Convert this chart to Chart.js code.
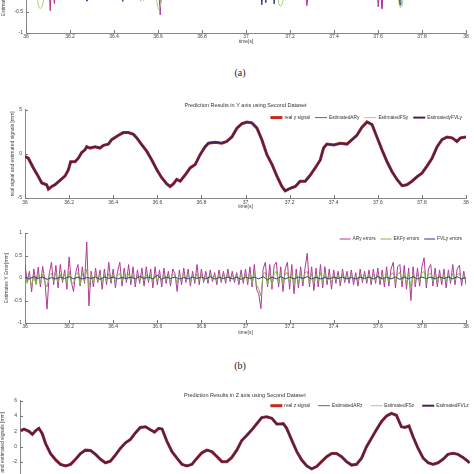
<!DOCTYPE html>
<html><head><meta charset="utf-8">
<script src="https://cdn.jsdelivr.net/npm/chart.js@4"></script>
<style>
html,body{margin:0;padding:0;width:474px;height:474px;overflow:hidden;background:#fff;position:relative;}
.p{position:absolute;left:0;width:474px;}
.cap{position:absolute;font-family:"Liberation Serif","Times New Roman",serif;font-size:10px;color:#222;transform:translate(-50%,-50%);}
</style></head><body>
<div class="p" style="top:-62px;height:107px"><canvas id="ca"></canvas></div>
<div class="cap" style="left:240px;top:72px">(a)</div>
<div class="p" style="top:97px;height:113px"><canvas id="cb1"></canvas></div>
<div class="p" style="top:226px;height:111px"><canvas id="cb2"></canvas></div>
<div class="cap" style="left:240px;top:365px">(b)</div>
<div class="p" style="top:386px;height:134px"><canvas id="cc"></canvas></div>
<script>
// ---------- tick labels ----------
const xTickValues = [36, 36.2, 36.4, 36.6, 36.8, 37, 37.2, 37.4, 37.6, 37.8, 38];
const ySigTicks = [-5, 0, 5];
const errTicks = [-1, -0.5, 0, 0.5, 1];
const zTicks = [-8, -6, -4, -2, 0, 2, 4, 6];

// ---------- panel (a): X errors (only lower part visible) ----------
const aMagT = [36.000,36.106,36.110,36.114,36.125,36.129,36.133,36.600,36.606,36.610,36.614,37.270,37.277,37.283,37.596,37.601,37.606,37.614,37.618,37.623,38.000];
const aMagV = [-0.05,-0.05,-0.47,-0.05,-0.05,-0.30,-0.05,-0.05,-0.20,-0.57,-0.05,-0.05,-0.35,-0.05,-0.05,-0.38,-0.05,-0.05,-0.42,-0.05,-0.05];
const aEkfT = [36.000,36.050,36.055,36.060,36.066,36.072,36.078,36.084,36.518,36.522,36.526,36.531,36.535,36.539,36.590,36.596,36.602,36.608,36.614,36.620,37.143,37.149,37.156,37.163,37.170,37.176,37.690,37.696,37.702,37.709,37.715,37.720,38.000];
const aEkfV = [-0.05,-0.05,-0.30,-0.40,-0.42,-0.38,-0.28,-0.05,-0.05,-0.24,-0.05,-0.05,-0.23,-0.05,-0.05,-0.30,-0.44,-0.40,-0.25,-0.05,-0.05,-0.30,-0.36,-0.33,-0.20,-0.05,-0.05,-0.30,-0.40,-0.36,-0.15,-0.05,-0.05];
const aFvlT = [36.000,36.273,36.277,36.281,36.436,36.440,36.444,37.068,37.072,37.076,37.086,37.090,37.094,37.124,37.128,37.132,37.696,37.700,37.704,38.000];
const aFvlV = [-0.05,-0.05,-0.24,-0.05,-0.05,-0.25,-0.05,-0.05,-0.33,-0.05,-0.05,-0.28,-0.05,-0.05,-0.31,-0.05,-0.05,-0.33,-0.05,-0.05];

// ---------- panel (b) top: Y signal ----------
const ySigT = [36.000,36.015,36.038,36.061,36.076,36.098,36.106,36.121,36.136,36.159,36.182,36.197,36.207,36.227,36.242,36.257,36.272,36.280,36.295,36.318,36.340,36.356,36.378,36.393,36.424,36.446,36.469,36.492,36.507,36.530,36.552,36.575,36.598,36.620,36.643,36.658,36.673,36.688,36.704,36.726,36.749,36.772,36.794,36.817,36.832,36.862,36.893,36.915,36.938,36.961,36.983,37.006,37.029,37.052,37.074,37.097,37.120,37.142,37.165,37.180,37.203,37.226,37.248,37.271,37.294,37.316,37.339,37.354,37.369,37.400,37.430,37.460,37.483,37.505,37.528,37.551,37.574,37.596,37.619,37.642,37.664,37.687,37.710,37.732,37.755,37.778,37.800,37.823,37.846,37.869,37.891,37.914,37.937,37.959,37.975,38.000];
const ySigV = [-0.3,-0.5,-1.6,-2.6,-3.3,-3.5,-4.0,-3.7,-3.5,-3.0,-2.5,-1.8,-0.9,-0.9,-0.5,0.15,0.45,0.8,0.65,0.8,0.65,0.95,1.1,1.6,2.1,2.4,2.4,2.2,1.8,1.0,0.3,-0.7,-1.8,-2.7,-3.4,-3.7,-3.4,-2.9,-3.1,-2.4,-1.6,-1.2,-0.1,0.8,1.2,1.3,1.2,1.4,1.9,2.9,3.4,3.6,3.5,2.9,1.6,-0.1,-1.2,-2.5,-3.7,-4.2,-3.9,-3.7,-3.1,-3.1,-2.4,-1.6,-0.7,0.65,1.1,1.0,1.2,1.1,1.6,2.1,3.0,3.6,3.3,1.9,0.45,-0.9,-2.0,-2.9,-3.6,-3.5,-3.1,-2.6,-2.2,-1.4,-0.5,0.8,1.6,1.9,1.8,1.4,1.8,1.9];

// ---------- panel (b) bottom: Y errors (sampled every 0.01 s / 0.02 s) ----------
const arErr = [0.30,-0.08,0.15,-0.31,0.20,-0.12,0.24,-0.20,0.26,-0.05,
-0.69,0.10,0.35,-0.15,0.28,-0.22,0.30,-0.10,0.18,-0.25,
0.47,-0.08,-0.30,0.12,0.30,-0.18,0.25,-0.12,0.80,-0.62,
0.15,-0.20,0.22,-0.10,0.18,-0.25,0.20,-0.15,0.35,-0.12,
0.20,-0.22,0.15,0.35,-0.18,0.22,-0.10,0.30,-0.15,0.25,
-0.20,0.18,-0.12,0.22,-0.18,0.25,-0.10,0.20,-0.22,0.25,
-0.15,0.18,-0.20,0.22,-0.12,0.15,-0.18,0.20,0.10,-0.30,
0.18,-0.15,0.22,-0.10,0.20,-0.18,0.15,-0.12,0.30,-0.15,
0.20,-0.10,0.15,-0.12,0.18,-0.08,0.12,-0.15,0.18,-0.10,
0.15,-0.12,0.20,-0.08,0.15,-0.10,0.12,-0.15,0.18,-0.12,
0.20,-0.15,0.25,-0.20,0.30,-0.25,-0.35,-0.68,0.20,0.35,
-0.20,0.30,-0.25,0.28,0.35,-0.20,0.25,-0.30,0.20,0.35,
-0.25,0.30,-0.35,0.20,-0.22,0.25,-0.18,0.22,0.55,-0.20,
0.25,-0.28,0.22,-0.20,0.30,-0.22,0.25,-0.15,0.20,-0.25,
0.18,-0.12,0.15,-0.18,0.20,-0.10,0.15,-0.12,0.18,-0.15,
0.12,-0.18,0.20,-0.10,0.15,-0.12,0.18,-0.15,0.20,-0.12,
0.22,-0.15,0.18,-0.20,0.25,-0.18,0.20,0.35,-0.22,0.25,
0.30,-0.20,0.28,-0.25,0.22,-0.50,0.25,-0.20,0.22,-0.18,
0.25,0.45,-0.22,0.20,0.30,-0.18,0.22,-0.20,0.18,-0.15,
0.20,-0.22,0.18,-0.12,0.30,-0.15,0.20,0.28,-0.18,0.15,
-0.15];
const ekfErr = [0.05,-0.12,0.08,-0.18,0.06,-0.15,0.10,-0.12,0.08,-0.10,
-0.20,0.08,0.10,-0.08,0.12,-0.10,0.08,-0.06,0.10,-0.12,
0.15,-0.10,-0.12,0.08,0.12,-0.15,0.10,-0.08,0.20,-0.20,
0.08,-0.10,0.10,-0.06,0.08,-0.10,0.06,-0.08,0.10,-0.06,
0.08,-0.08,0.06,0.10,-0.08,0.08,-0.05,0.10,-0.06,0.08,
-0.08,0.06,-0.05,0.08,-0.06,0.08,-0.05,0.06,-0.08,0.08,
-0.06,0.05,-0.08,0.08,-0.05,0.06,-0.08,0.10,0.05,-0.12,
0.08,-0.06,0.10,-0.05,0.08,-0.06,0.05,-0.05,0.10,-0.06,
0.08,-0.05,0.06,-0.05,0.08,-0.04,0.05,-0.06,0.08,-0.05,
0.06,-0.05,0.08,-0.04,0.06,-0.05,0.05,-0.06,0.08,-0.05,
0.08,-0.08,0.10,-0.12,0.12,-0.15,-0.25,-0.40,0.10,0.12,
-0.15,0.12,-0.18,0.10,0.15,-0.10,0.12,-0.15,0.10,0.12,
-0.12,0.12,-0.15,0.08,-0.10,0.10,-0.08,0.10,0.15,-0.10,
0.10,-0.12,0.08,-0.08,0.12,-0.10,0.10,-0.06,0.08,-0.10,
0.06,-0.05,0.06,-0.08,0.08,-0.05,0.06,-0.05,0.08,-0.06,
0.05,-0.08,0.08,-0.05,0.06,-0.05,0.08,-0.06,0.08,-0.05,
0.08,-0.06,0.08,-0.08,0.10,-0.08,0.08,0.12,-0.10,0.10,
0.12,-0.08,0.10,-0.12,0.10,-0.22,0.10,-0.10,0.08,-0.08,
0.10,0.15,-0.10,0.08,0.10,-0.08,0.08,-0.08,0.06,-0.06,
0.08,-0.08,0.06,-0.05,0.10,-0.06,0.08,0.10,-0.06,0.06,
-0.05];
const fvlErr = [0.02,-0.02,0.03,-0.01,0.02,-0.03,0.01,-0.02,0.02,-0.01,
0.03,-0.02,0.02,-0.02,0.01,-0.01,0.02,-0.03,0.02,-0.01,
0.02,-0.02,0.01,-0.01,0.02,-0.02,0.03,-0.01,0.02,-0.02,
0.06,-0.03,0.02,-0.01,0.02,-0.02,0.01,-0.02,0.02,-0.01,
0.02,-0.02,0.03,-0.02,0.01,-0.01,0.02,-0.02,0.02,-0.03,
0.02,-0.01,0.02,-0.02,0.03,-0.04,0.02,-0.02,0.03,-0.02,
0.02,-0.02,0.02,-0.01,0.03,-0.02,0.02,-0.02,0.01,-0.02,
0.02,-0.01,0.02,-0.02,0.01,-0.02,0.02,-0.01,0.02,-0.02,
0.03,-0.02,0.02,-0.02,0.02,-0.03,0.02,-0.02,0.03,-0.02,
0.02,-0.01,0.02,-0.02,0.02,-0.01,0.02,-0.02,0.03,-0.02,
0.01];

// ---------- panel (c): Z signal ----------
const zSigT = [36.003,36.018,36.040,36.055,36.070,36.084,36.099,36.114,36.136,36.158,36.180,36.203,36.225,36.247,36.269,36.291,36.314,36.336,36.358,36.380,36.402,36.424,36.447,36.469,36.491,36.513,36.535,36.558,36.580,36.598,36.617,36.632,36.654,36.676,36.698,36.720,36.742,36.765,36.787,36.809,36.831,36.853,36.876,36.898,36.920,36.942,36.964,36.986,37.009,37.031,37.053,37.075,37.097,37.120,37.142,37.157,37.171,37.186,37.208,37.231,37.253,37.275,37.297,37.319,37.341,37.364,37.386,37.408,37.430,37.452,37.475,37.497,37.519,37.541,37.563,37.585,37.608,37.630,37.652,37.674,37.696,37.711,37.730,37.748,37.770,37.793,37.815,37.837,37.859,37.881,37.903,37.926,37.948,37.970,38.000];
const zSigV = [2.1,2.3,2.0,1.6,2.1,2.4,1.7,0.4,-0.9,-1.7,-2.3,-2.5,-2.3,-1.65,-0.9,-0.45,-0.5,-1.0,-1.65,-2.1,-1.9,-1.1,-0.2,0.5,0.95,1.8,2.5,2.6,2.2,1.9,2.4,2.3,0.65,-0.65,-1.5,-2.3,-2.5,-2.3,-1.5,-0.8,-0.45,-0.65,-1.3,-1.95,-1.95,-1.4,-0.45,0.8,1.5,2.2,3.0,3.8,3.9,3.7,2.95,2.95,3.0,2.4,0.9,-0.65,-1.75,-2.5,-2.9,-2.6,-1.95,-1.3,-0.9,-0.9,-1.3,-1.95,-2.4,-2.3,-1.5,0.0,1.1,2.2,3.3,4.0,4.35,4.1,2.6,2.5,2.7,1.3,-0.2,-1.5,-2.1,-2.3,-2.1,-1.65,-1.0,-0.85,-1.0,-1.4,-2.1];

// sample times (x categories) of the error series
const errT = Array.from({length: arErr.length}, (_, i) => +(36 + i * 0.01).toFixed(2));
const fvlT = Array.from({length: fvlErr.length}, (_, i) => +(36 + i * 0.02).toFixed(2));

// ---------- colours ----------
const C_REAL = '#c8281e', C_AR = '#a4418f', C_FS = '#a9d07a', C_FVL = '#4a2250';
const E_AR = '#b0399a', E_EKF = '#86b447', E_FVL = '#34378a';
const FONT = '"Liberation Sans", Arial, sans-serif';

Chart.defaults.font.family = FONT;
Chart.defaults.color = '#444';

const pts = (t, v) => t.map((x, i) => ({x, y: v[i]}));

const inwardTicks = {
  id: 'inwardTicks',
  afterDraw(chart) {
    const ctx = chart.ctx, a = chart.chartArea, sx = chart.scales.x, sy = chart.scales.y;
    ctx.save();
    ctx.strokeStyle = '#777'; ctx.lineWidth = 1;
    sx.ticks.forEach(t => { const p = Math.round(sx.getPixelForValue(t.value)) + 0.5;
      ctx.beginPath(); ctx.moveTo(p, a.bottom); ctx.lineTo(p, a.bottom - 3); ctx.stroke(); });
    sy.ticks.forEach(t => { const p = Math.round(sy.getPixelForValue(t.value)) + 0.5;
      ctx.beginPath(); ctx.moveTo(a.left, p); ctx.lineTo(a.left + 3, p); ctx.stroke(); });
    ctx.restore();
  }
};

// horizontal legend inside the plot, top-right (MATLAB style)
const miniLegend = {
  id: 'miniLegend',
  afterDatasetsDraw(chart, args, opts) {
    if (!opts || !opts.display) return;
    const ctx = chart.ctx, a = chart.chartArea;
    ctx.save();
    ctx.font = opts.size + 'px ' + FONT;
    ctx.textBaseline = 'middle';
    const items = chart.data.datasets.map(d => ({label: d.label, color: d.borderColor, w: d.borderWidth}));
    let total = 0;
    items.forEach(it => { it.tw = ctx.measureText(it.label).width; total += opts.lineLen + opts.gap + it.tw; });
    total += opts.itemGap * (items.length - 1);
    let x = a.right - opts.right - total;
    const y = a.top + opts.top;
    items.forEach(it => {
      ctx.strokeStyle = it.color; ctx.lineWidth = it.w;
      ctx.beginPath(); ctx.moveTo(x, y); ctx.lineTo(x + opts.lineLen, y); ctx.stroke();
      x += opts.lineLen + opts.gap;
      ctx.fillStyle = '#333'; ctx.fillText(it.label, x, y);
      x += it.tw + opts.itemGap;
    });
    ctx.restore();
  }
};

function fmt(v) { return String(Math.round(v * 100) / 100); }

function makeChart(id, o) {
  return new Chart(document.getElementById(id), {
    type: 'line',
    data: {datasets: o.datasets},
    plugins: [inwardTicks, miniLegend],
    options: {
      responsive: true, maintainAspectRatio: false, animation: false, devicePixelRatio: 1, events: [],
      layout: {padding: {top: o.padTop, right: o.padRight, left: 0, bottom: 0}},
      elements: {point: {radius: 0}, line: {tension: 0}},
      scales: {
        x: {type: 'linear', min: 36, max: 38,
          afterBuildTicks: s => { s.ticks = xTickValues.map(v => ({value: v})); },
          afterFit: s => { s.height = o.xHeight; },
          ticks: {autoSkip: false, maxRotation: 0, font: {size: 5}, padding: o.xTickPad, color: '#444', callback: v => fmt(v)},
          grid: {display: true, drawOnChartArea: false, drawTicks: false},
          border: {display: true, color: '#888', width: 1},
          title: {display: true, text: 'time[s]', font: {size: 5}, color: '#444', padding: {top: 0, bottom: o.xTitlePad}}
        },
        y: {type: 'linear', min: o.yMin, max: o.yMax,
          afterBuildTicks: s => { s.ticks = o.yTicks.map(v => ({value: v})); },
          afterFit: s => { s.width = o.yWidth; },
          ticks: {autoSkip: false, font: {size: 5}, padding: 3, color: '#444', callback: v => fmt(v)},
          grid: {display: true, drawOnChartArea: false, drawTicks: false},
          border: {display: true, color: '#888', width: 1},
          title: {display: true, text: o.yTitle, font: {size: 5}, color: '#444', padding: {top: o.yTitlePad, bottom: 0}}
        }
      },
      plugins: {
        tooltip: {enabled: false},
        legend: {display: false},
        title: o.title ? {display: true, text: o.title, fullSize: false, font: {size: 5.5, weight: 'normal'}, color: '#333', padding: o.titlePad} : {display: false},
        miniLegend: o.legend || {display: false}
      }
    }
  });
}

const ln = (label, data, color, w, order) => ({label, data, borderColor: color, backgroundColor: color, borderWidth: w, order, fill: false, pointRadius: 0});

// panel (a)
makeChart('ca', {
  datasets: [ln('ARx errors', pts(aMagT, aMagV), E_AR, 1, 3), ln('EKFx errors', pts(aEkfT, aEkfV), C_FS, 1, 2), ln('FVLx errors', pts(aFvlT, aFvlV), E_FVL, 1, 1)],
  yMin: -1, yMax: 1, yTicks: errTicks, yTitle: 'Estimates X Error[mm]', yTitlePad: 1, yWidth: 26,
  padTop: 11, padRight: 8, xHeight: 12, xTickPad: 1, xTitlePad: 0
});

// panel (b) signal
makeChart('cb1', {
  datasets: [ln('real y signal', pts(ySigT, ySigV), C_REAL, 3, 5), ln('EstimatedARy', pts(ySigT, ySigV), C_AR, 1, 3),
             ln('EstimatedFSy', pts(ySigT, ySigV), C_FS, 1, 2), ln('EstimatedyFVLy', pts(ySigT, ySigV), C_FVL, 2, 1)],
  yMin: -5, yMax: 5, yTicks: ySigTicks, yTitle: 'real signal and estimated signals [mm]', yTitlePad: 10, yWidth: 25,
  padTop: 0, padRight: 8, xHeight: 12, xTickPad: 1.5, xTitlePad: 0,
  title: 'Prediction Results in Y axis using Second Dataset', titlePad: {top: 5, bottom: 1},
  legend: {display: true, size: 4.8, lineLen: 12, gap: 2, itemGap: 5, right: 4, top: 8}
});

// panel (b) errors
makeChart('cb2', {
  datasets: [ln('ARy errors', pts(errT, arErr), E_AR, 1, 3), ln('EKFy errors', pts(errT, ekfErr), E_EKF, 1, 2), ln('FVLy errors', pts(fvlT, fvlErr), E_FVL, 1, 1)],
  yMin: -1, yMax: 1, yTicks: errTicks, yTitle: 'Estimates Y Error[mm]', yTitlePad: 4, yWidth: 25,
  padTop: 7, padRight: 8, xHeight: 14, xTickPad: 1, xTitlePad: 1,
  legend: {display: true, size: 4.8, lineLen: 11, gap: 2, itemGap: 5, right: 4, top: 6}
});

// panel (c) signal
makeChart('cc', {
  datasets: [ln('real z signal', pts(zSigT, zSigV), C_REAL, 3, 5), ln('EstimatedARz', pts(zSigT, zSigV), C_AR, 1, 3),
             ln('EstimatedFSz', pts(zSigT, zSigV), C_FS, 1, 2), ln('EstimatedFVLz', pts(zSigT, zSigV), C_FVL, 2, 1)],
  yMin: -8, yMax: 6, yTicks: zTicks, yTitle: 'real signal and estimated signals [mm]', yTitlePad: 0, yWidth: 20,
  padTop: 0, padRight: 4, xHeight: 12, xTickPad: 1.5, xTitlePad: 0,
  title: 'Prediction Results in Z axis using Second Dataset', titlePad: {top: 5.7, bottom: 2.4},
  legend: {display: true, size: 4.8, lineLen: 12, gap: 2, itemGap: 8, right: 1, top: 5}
});
</script>
</body></html>
